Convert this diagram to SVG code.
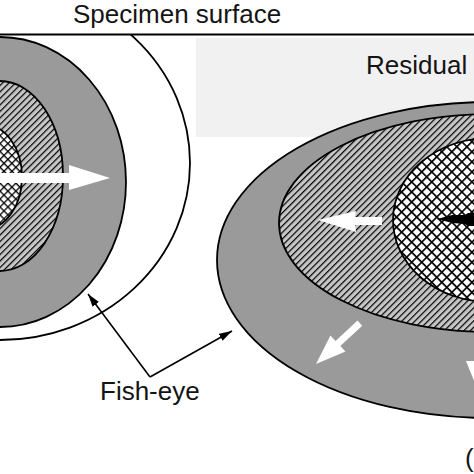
<svg xmlns="http://www.w3.org/2000/svg" width="474" height="474" viewBox="0 0 474 474">
<style>
  .lbl { font-family: "Liberation Sans", Arial, Helvetica, sans-serif; font-size: 26px; fill: #141414; }
  .edge { stroke: #000; stroke-width: 1.8; }
  .band { fill: #9a9a9a; }
  .white { fill: #fff; }
  .conn { stroke: #000; stroke-width: 1.6; fill: none; marker-end: url(#ah); }
  .warrow { fill: #fff; }
</style>
<defs>
  <pattern id="hatch" patternUnits="userSpaceOnUse" width="10" height="4.6" patternTransform="rotate(-45)">
    <rect width="10" height="4.6" fill="#c6c6c6"/>
    <line x1="0" y1="0.6" x2="10" y2="0.6" stroke="#000" stroke-width="1.2"/>
  </pattern>
  <pattern id="cross" patternUnits="userSpaceOnUse" width="7.1" height="7.1" patternTransform="rotate(45)">
    <rect width="7.1" height="7.1" fill="#fff"/>
    <line x1="0" y1="0.8" x2="7.1" y2="0.8" stroke="#000" stroke-width="1.7"/>
    <line x1="0.8" y1="0" x2="0.8" y2="7.1" stroke="#000" stroke-width="1.7"/>
  </pattern>
  <pattern id="crossL" patternUnits="userSpaceOnUse" width="5.6" height="5.6" patternTransform="rotate(45)">
    <rect width="5.6" height="5.6" fill="#fff"/>
    <line x1="0" y1="0.7" x2="5.6" y2="0.7" stroke="#000" stroke-width="1.3"/>
    <line x1="0.7" y1="0" x2="0.7" y2="5.6" stroke="#000" stroke-width="1.3"/>
  </pattern>
  <clipPath id="below">
    <rect x="0" y="35" width="474" height="439"/>
  </clipPath>
  <marker id="ah" markerUnits="userSpaceOnUse" markerWidth="14" markerHeight="10" refX="13" refY="4" orient="auto">
    <path d="M0,0 L13,4 L0,8 Z" fill="#000"/>
  </marker>
</defs>

<rect x="0" y="0" width="474" height="474" fill="#fff"/>

<rect id="residual-zone" x="196" y="38" width="278" height="99" fill="#f1f1f1"/>

<g id="left-fisheye" clip-path="url(#below)">
  <ellipse class="white edge" cx="0" cy="163" rx="190" ry="177"/>
  <ellipse class="band edge" cx="0" cy="182" rx="126" ry="145"/>
  <ellipse class="edge" fill="url(#hatch)" cx="0" cy="176" rx="63" ry="95"/>
  <ellipse class="edge" fill="url(#crossL)" cx="-15" cy="177" rx="37" ry="52"/>
  <polygon class="warrow" points="0,173 69,173 69,165 110,178 69,190 69,183 0,183"/>
</g>

<g id="right-fisheye">
  <ellipse class="band edge" cx="490" cy="260" rx="273" ry="158"/>
  <ellipse class="edge" fill="url(#hatch)" cx="490" cy="223" rx="211" ry="109"/>
  <ellipse class="edge" fill="url(#cross)" cx="490" cy="220" rx="97" ry="82"/>
  <polygon fill="#000" points="437,219 452,215 465,215 468,213 474,213 474,226 468,226 465,224 452,223"/>
  <polygon class="warrow" points="318,220 356,211 355,217 382,217 382,225 355,225 356,232"/>
  <polygon class="warrow" transform="translate(316,364) rotate(137)" points="0,0 -30,-11 -30,-3.5 -60,-3.5 -60,3.5 -30,3.5 -30,11"/>
  <polygon class="warrow" points="466,361 500,361 481,398"/>
</g>

<g id="surface">
  <line x1="0" y1="34.5" x2="474" y2="34.5" stroke="#000" stroke-width="2"/>
  <text id="specimen-surface" class="lbl" x="73" y="23">Specimen surface</text>
</g>

<text id="residual" class="lbl" x="366" y="74">Residual</text>

<g id="connectors">
  <polyline class="conn" points="150,377 88,294"/>
  <polyline class="conn" points="150,377 232,331"/>
</g>

<text id="fish-eye" class="lbl" x="100" y="400">Fish-eye</text>
<text id="panel-label" class="lbl" x="465" y="467">(</text>
</svg>
